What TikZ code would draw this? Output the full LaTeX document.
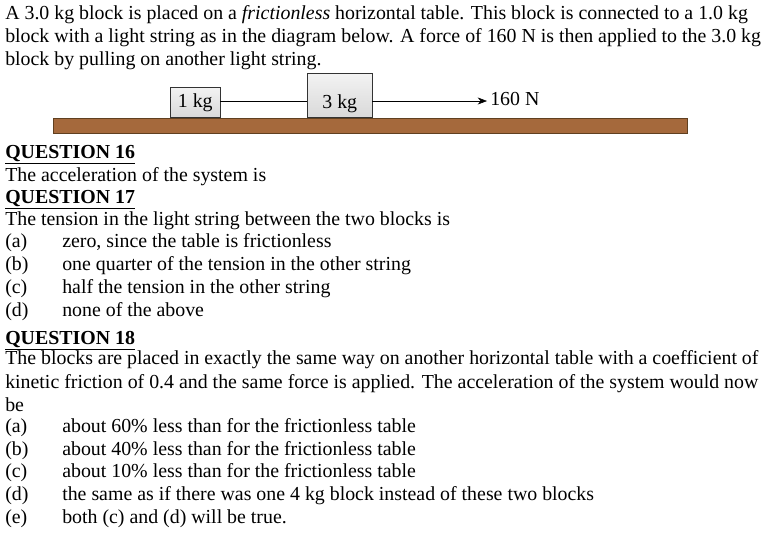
\documentclass[tikz,border=0pt]{standalone}
\usepackage{fontspec}
\usetikzlibrary{arrows.meta}
\setmainfont{Liberation Serif}
\begin{document}
\begin{tikzpicture}[x=0.75pt,y=-0.75pt,
  t/.style={anchor=base west,inner sep=0pt,font=\fontsize{14.9pt}{17pt}\selectfont},
  blk/.style={draw=black!80,inner sep=0pt,top color=gray!10,bottom color=gray!30},
  q/.style={t,font=\fontsize{14.9pt}{17pt}\selectfont\bfseries}]
\useasboundingbox (0,0) rectangle (771,536);
\node[t] (l1) at (5,19) {A 3.0 kg block is placed on a \textit{frictionless} horizontal table. This block is connected to a 1.0 kg};
\node[t] (l2) at (5,42) {block with a light string as in the diagram below. A force of 160 N is then applied to the 3.0 kg};
\node[t] (l3) at (5,65) {block by pulling on another light string.};
% diagram
\node[draw=brown!50!black,fill={rgb,255:red,165;green,105;blue,60},minimum width=634*0.75pt,minimum height=15*0.75pt,inner sep=0pt,anchor=north west] (table) at (53,118) {};
\node[blk,minimum width=50*0.75pt,minimum height=30*0.75pt,anchor=south west,font=\fontsize{14.9pt}{17pt}\selectfont] (b1) at (170,118) {1 kg};
\node[blk,minimum width=65*0.75pt,minimum height=44*0.75pt,anchor=south west,text depth=0pt,font=\fontsize{14.9pt}{17pt}\selectfont] (b3) at (307,118) {\raisebox{-9pt}{3 kg}};
\coordinate (s1) at (220,101);
\coordinate (s2) at (307,101);
\draw (s1) -- (s2);
\coordinate (a1) at (372,101);
\coordinate (a2) at (487,101);
\draw[-{Stealth[length=7pt]}] (a1) -- (a2);
\node[t] (f) at (490,105) {160 N};
% questions
\node[q] (q16) at (5,158) {\underline{QUESTION 16}};
\node[t] (q16t) at (5,181) {The acceleration of the system is};
\node[q] (q17) at (5,203) {\underline{QUESTION 17}};
\node[t] (q17t) at (5,225) {The tension in the light string between the two blocks is};
\node[t] (a17a) at (5,247) {(a)}; \node[t] (a17at) at (62,247) {zero, since the table is frictionless};
\node[t] (a17b) at (5,270) {(b)}; \node[t] (a17bt) at (62,270) {one quarter of the tension in the other string};
\node[t] (a17c) at (5,293) {(c)}; \node[t] (a17ct) at (62,293) {half the tension in the other string};
\node[t] (a17d) at (5,316) {(d)}; \node[t] (a17dt) at (62,316) {none of the above};
\node[q] (q18) at (5,344) {\underline{QUESTION 18}};
\node[t] (q18a) at (5,364) {The blocks are placed in exactly the same way on another horizontal table with a coefficient of};
\node[t] (q18b) at (5,388) {kinetic friction of 0.4 and the same force is applied. The acceleration of the system would now};
\node[t] (q18c) at (5,411) {be};
\node[t] (a18a) at (5,432) {(a)}; \node[t] (a18at) at (62,432) {about 60\% less than for the frictionless table};
\node[t] (a18b) at (5,455) {(b)}; \node[t] (a18bt) at (62,455) {about 40\% less than for the frictionless table};
\node[t] (a18c) at (5,477) {(c)}; \node[t] (a18ct) at (62,477) {about 10\% less than for the frictionless table};
\node[t] (a18d) at (5,500) {(d)}; \node[t] (a18dt) at (62,500) {the same as if there was one 4 kg block instead of these two blocks};
\node[t] (a18e) at (5,523) {(e)}; \node[t] (a18et) at (62,523) {both (c) and (d) will be true.};
\end{tikzpicture}
\end{document}
